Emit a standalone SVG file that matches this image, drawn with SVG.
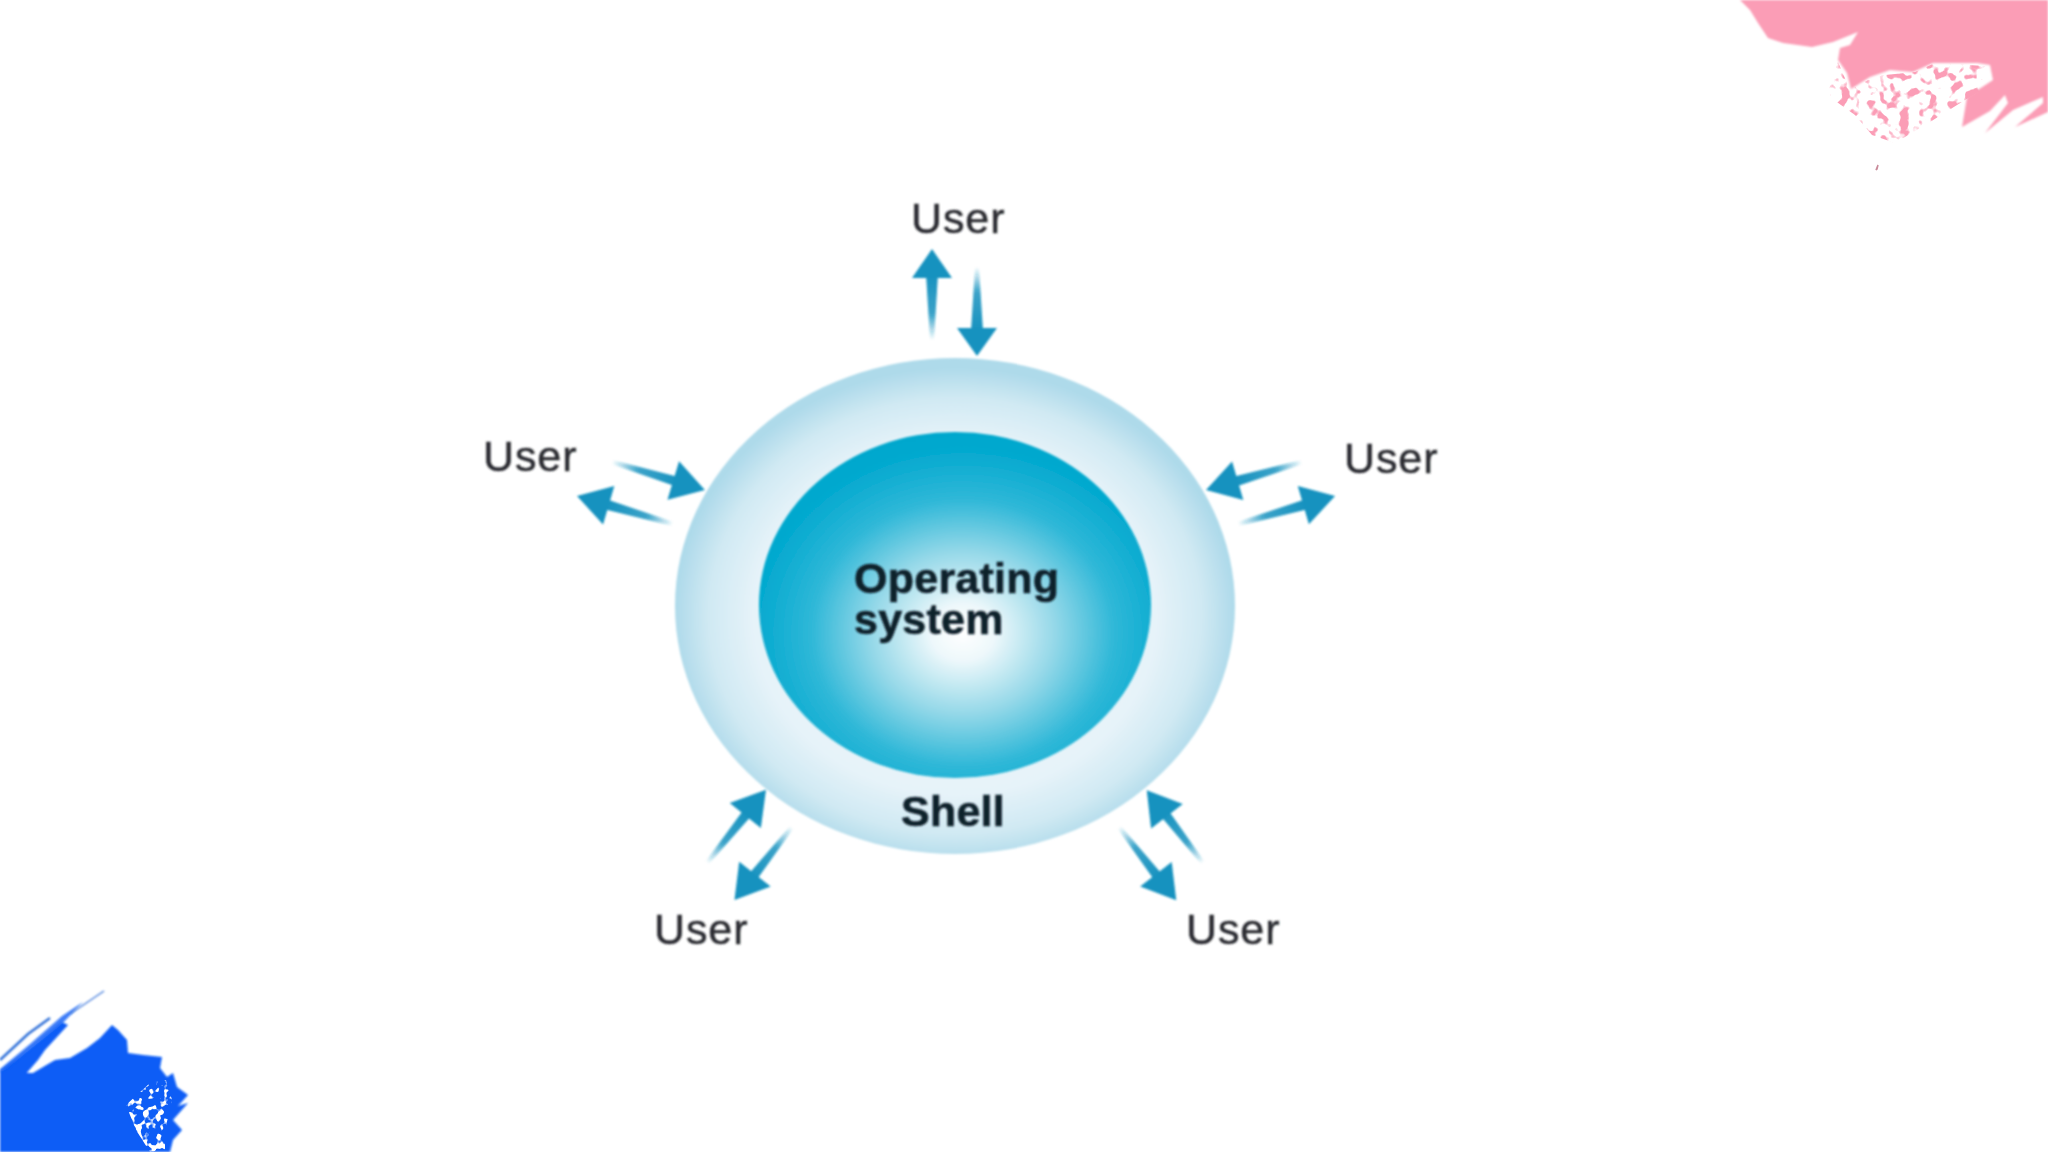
<svg xmlns="http://www.w3.org/2000/svg" width="2048" height="1152" viewBox="0 0 2048 1152">
<style>
text{font-family:"Liberation Sans",Arial,sans-serif;filter:url(#soft)}
.user{font-size:43px;letter-spacing:.9px;fill:#2a2c30;stroke:#2a2c30;stroke-width:.5px}
.bold{font-size:43px;font-weight:700;letter-spacing:.25px;fill:#10202c;stroke:#10202c;stroke-width:.6px}
.head{fill:#1592bf}
.shaft{fill:url(#fade)}
.pink{fill:#fb9db6}
.blue{fill:#0a5df6}
</style>
<defs>
<filter id="soft" x="-10%" y="-10%" width="120%" height="120%"><feGaussianBlur stdDeviation="0.8"/></filter>
<filter id="soft2" x="-20%" y="-20%" width="140%" height="140%"><feGaussianBlur stdDeviation="1"/></filter>
<filter id="speck" x="0" y="0" width="100%" height="100%">
<feTurbulence type="fractalNoise" baseFrequency="0.1" numOctaves="2" seed="4" result="n"/>
<feColorMatrix in="n" type="matrix" values="0 0 0 0 0 0 0 0 0 0 0 0 0 0 0 9 0 0 0 -4.7" result="m"/>
<feComposite in="SourceGraphic" in2="m" operator="in"/>
<feGaussianBlur stdDeviation=".5"/>
</filter>
<filter id="speck2" x="0" y="0" width="100%" height="100%">
<feTurbulence type="fractalNoise" baseFrequency="0.14" numOctaves="2" seed="9" result="n"/>
<feColorMatrix in="n" type="matrix" values="0 0 0 0 0 0 0 0 0 0 0 0 0 0 0 9 0 0 0 -4.6" result="m"/>
<feComposite in="SourceGraphic" in2="m" operator="in"/>
<feGaussianBlur stdDeviation=".5"/>
</filter>
<linearGradient id="fade" x1="0" y1="0" x2="1" y2="0"><stop offset="0" stop-color="#1592bf" stop-opacity="0"/><stop offset=".4" stop-color="#1592bf" stop-opacity=".85"/><stop offset="1" stop-color="#1592bf"/></linearGradient>
<radialGradient id="outer" cx=".5" cy=".52" r=".5"><stop offset="0" stop-color="#f2f9fc"/><stop offset=".72" stop-color="#e6f3f9"/><stop offset=".88" stop-color="#d0e9f3"/><stop offset="1" stop-color="#aedaea"/></radialGradient>
<radialGradient id="inner" cx=".52" cy=".58" r=".62"><stop offset="0" stop-color="#ffffff"/><stop offset=".13" stop-color="#eef8fb"/><stop offset=".38" stop-color="#94d8e8"/><stop offset=".62" stop-color="#30b8d8"/><stop offset=".85" stop-color="#04a9cf"/><stop offset="1" stop-color="#00a6cc"/></radialGradient>
</defs>
<rect width="2048" height="1152" fill="#ffffff"/>
<g id="brush-pink">
<path class="pink" filter="url(#soft2)" d="M1740 0L1750 10L1758 23L1768 38L1783 43L1812 47L1833 42L1858 32L1850 45L1840 48L1838 60L1847 73L1851 89L1870 77L1890 70L1913 72L1933 63L1977 63L1990 65L1993 80L1967 97L1962 127L1990 111L2005 95L2008 103L1985 133L2013 110L2043 97L2043 103L2015 127L2048 112L2048 0Z"/>
<path class="pink" filter="url(#speck)" d="M1827 95L1838 62L1850 90L1875 76L1915 72L1935 63L1985 66L1990 85L1965 100L1930 122L1895 143L1872 135L1855 115Z"/>
<path class="pink" d="M1876 170L1878 165L1877 169Z" stroke="#c98a9a" stroke-width="1.5"/>
</g>
<g id="brush-blue">
<path class="blue" filter="url(#soft)" d="M0 1071L20 1056L40 1040L62 1022L68 1025L45 1050L38 1060L25 1075L20 1082L25 1073L33 1073L43 1067L55 1060L70 1058L87 1048L100 1038L112 1025L118 1030L127 1040L128 1053L143 1055L162 1057L160 1068L167 1077L173 1073L177 1087L188 1095L178 1106L188 1103L173 1120L182 1130L173 1140L170 1152L0 1152Z"/>
<path class="blue" filter="url(#soft)" opacity=".8" d="M0 1069L30 1044L62 1016L83 1002L60 1026L32 1048L6 1070L0 1072Z"/>
<path fill="none" stroke="#2f6fd8" stroke-width="2.5" filter="url(#soft)" d="M0 1060L28 1034L50 1018"/>
<path fill="none" stroke="#4a80dc" stroke-width="1.5" filter="url(#soft)" d="M70 1014L104 991"/>
<path fill="#ffffff" filter="url(#speck2)" d="M126 1105L150 1083L166 1080L172 1100L165 1130L165 1150L150 1152L136 1130Z"/>
</g>
<g id="shell"><ellipse cx="955" cy="606" rx="280" ry="248" fill="url(#outer)" filter="url(#soft)"/><text class="bold" x="901" y="826">Shell</text></g>
<g id="os"><ellipse cx="955" cy="605" rx="196" ry="173" fill="url(#inner)" filter="url(#soft)"/><text class="bold" x="854" y="593">Operating<tspan x="854" y="634">system</tspan></text></g>
<g id="user-top"><text class="user" x="911" y="233">User</text></g>
<g id="user-left"><text class="user" x="483" y="471">User</text></g>
<g id="user-right"><text class="user" x="1344" y="473">User</text></g>
<g id="user-bottom-left"><text class="user" x="654" y="944">User</text></g>
<g id="user-bottom-right"><text class="user" x="1186" y="944">User</text></g>
<g id="connectors" filter="url(#soft)">
<g transform="translate(932 340) rotate(-90)"><path class="shaft" d="M0 -2L66 -6L66 6L0 2Z"/><path class="head" d="M91 0L62 -20L62 20Z"/></g>
<g transform="translate(977 267) rotate(90)"><path class="shaft" d="M0 -2L64 -6L64 6L0 2Z"/><path class="head" d="M89 0L61 -20L61 20Z"/></g>
<g transform="translate(707 863) rotate(-51.1)"><path class="shaft" d="M0 -2L66 -5L66 5L0 2Z"/><path class="head" d="M94 0L61 -20L61 20Z"/></g>
<g transform="translate(792 827) rotate(128.2)"><path class="shaft" d="M0 -2L66 -5L66 5L0 2Z"/><path class="head" d="M93 0L60 -20L60 20Z"/></g>
<g transform="translate(1203 863) rotate(-127.7)"><path class="shaft" d="M0 -2L66 -5L66 5L0 2Z"/><path class="head" d="M92 0L59 -20L59 20Z"/></g>
<g transform="translate(1119 827) rotate(52)"><path class="shaft" d="M0 -2L66 -5L66 5L0 2Z"/><path class="head" d="M93 0L60 -20L60 20Z"/></g>
<g transform="translate(612 462) rotate(16.8)"><path class="shaft" d="M0 -2L70 -5L70 5L0 2Z"/><path class="head" d="M97 0L64 -20L64 20Z"/></g>
<g transform="translate(673 524) rotate(-163.7)"><path class="shaft" d="M0 -2L70 -5L70 5L0 2Z"/><path class="head" d="M100 0L67 -20L67 20Z"/></g>
<g transform="translate(1302 462) rotate(163.7)"><path class="shaft" d="M0 -2L70 -5L70 5L0 2Z"/><path class="head" d="M100 0L67 -20L67 20Z"/></g>
<g transform="translate(1238 524) rotate(-16.1)"><path class="shaft" d="M0 -2L70 -5L70 5L0 2Z"/><path class="head" d="M101 0L68 -20L68 20Z"/></g>
</g>
</svg>
